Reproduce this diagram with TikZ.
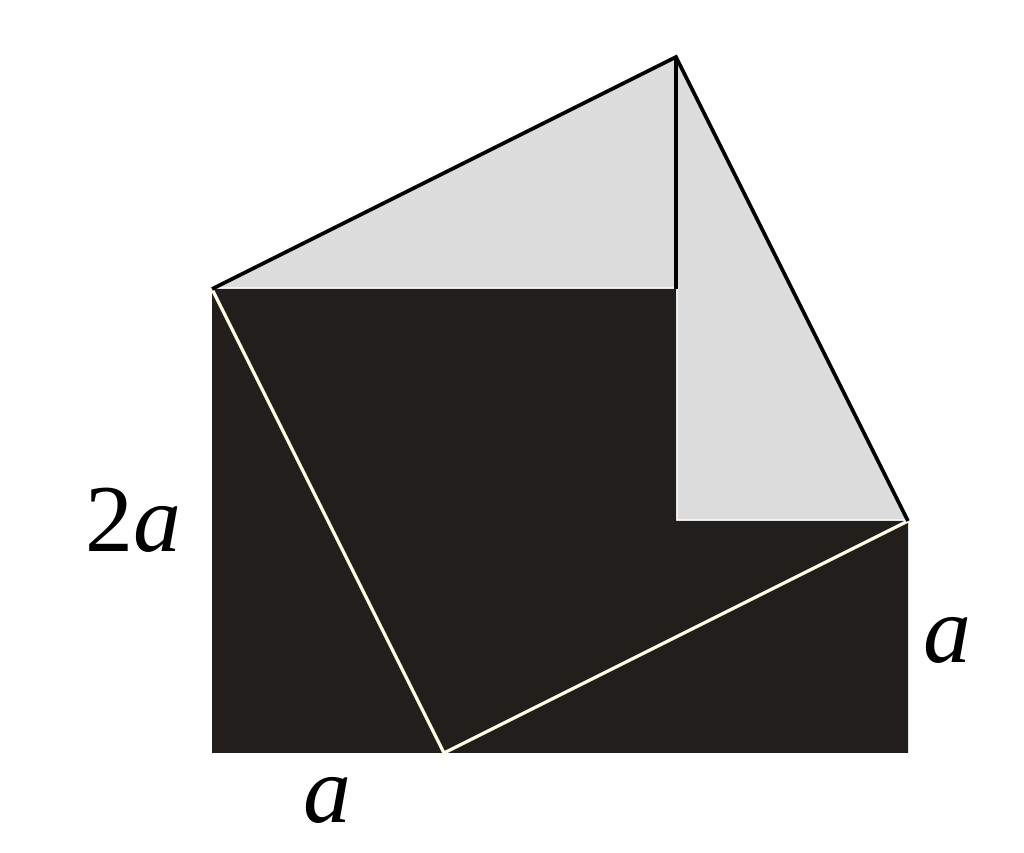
\documentclass[tikz,border=0pt]{standalone}
\usepackage{fontspec}
\setmainfont{Liberation Serif}
\usepackage{tikz}
\definecolor{darkfill}{HTML}{221E1B}
\definecolor{lightfill}{HTML}{DCDCDC}

\begin{document}
\begin{tikzpicture}[x=2cm, y=2cm]
        \tikzstyle{every node}=[font=\fontsize{23.5}{27}\selectfont\itshape, inner sep=0pt]
        \tikzstyle{darkline}=[draw=black, line width=0.9pt]
        \tikzstyle{lightline}=[draw=white!90!yellow, line width=0.8pt]
        \useasboundingbox (-0.9138,-0.431) rectangle (3.5,3.2457);
        \coordinate (o) at (0,0);
        \coordinate (b) at (1,0);
        \coordinate (r) at (3,0);
        \coordinate (q) at (3,1);
        \coordinate (c) at (2,1);
        \coordinate (m) at (2,2);
        \coordinate (p) at (0,2);
        \coordinate (t) at (2,3);
        \fill [lightfill, draw=white, line width=0.8pt] (p) -- (t) -- (q) -- (c) -- (m) -- cycle;
        \fill [darkfill] (o) -- (r) -- (q) -- (c) -- (m) -- (p) -- cycle;
        \draw [lightline] (p) -- (b) -- (q);
        \draw [darkline, line join=miter] (p) -- (t) -- (q);
        \draw [darkline] (t) -- (m);
        \node (twoa) at (-0.34,1.005) {\upshape 2\itshape a};
        \node (righta) at (3.172,0.487) {a};
        \node (bottoma) at (0.496,-0.203) {a};
    \end{tikzpicture}
\end{document}
